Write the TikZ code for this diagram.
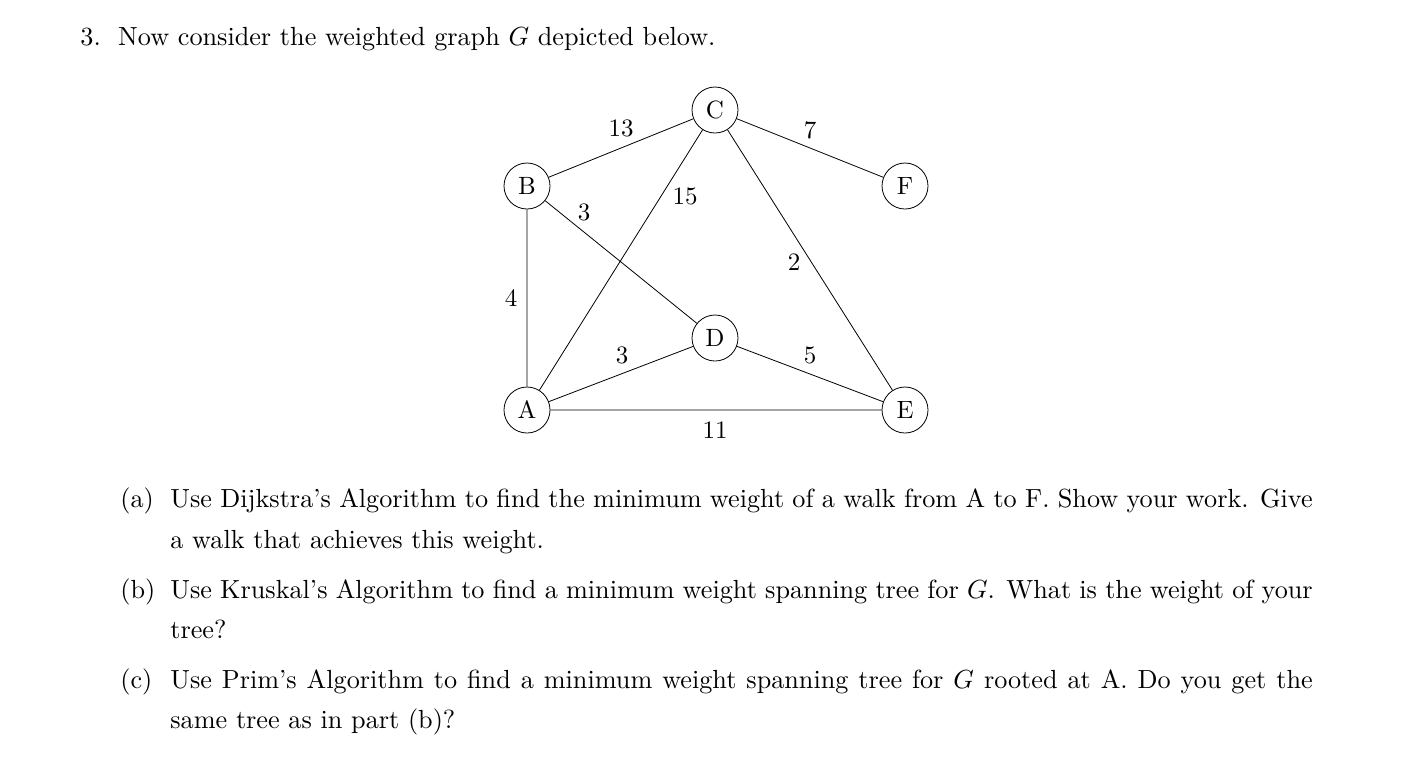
\documentclass[tikz,border=0pt]{standalone}
\newcommand{\bt}[1]{\scalebox{1.31}{\fontsize{10}{12}\selectfont #1}}
\newcommand{\gt}[1]{\scalebox{1.25}{\fontsize{10}{12}\selectfont #1}}
\begin{document}
\begin{tikzpicture}[x=0.5pt,y=-0.5pt,
  vtx/.style={draw,circle,minimum size=23pt,inner sep=0pt},
  wt/.style={inner sep=0pt},
  txt/.style={anchor=base west,inner sep=0pt}]
\useasboundingbox (0,0) rectangle (1416,768);
\node[txt] (title) at (80,45) {\bt{3.\ \ Now consider the weighted graph $G$ depicted below.}};
\node[vtx] (C) at (715,110) {\gt{C}};
\node[vtx] (B) at (527,186) {\gt{B}};
\node[vtx] (F) at (905,186) {\gt{F}};
\node[vtx] (D) at (715,338) {\gt{D}};
\node[vtx] (A) at (527,410) {\gt{A}};
\node[vtx] (E) at (905,410) {\gt{E}};
\draw (B)--(C) (C)--(F) (C)--(A) (C)--(E) (B)--(D) (B)--(A) (A)--(D) (D)--(E) (A)--(E);
\node[wt] (w1) at (621,128) {\gt{13}};
\node[wt] (w2) at (810,130) {\gt{7}};
\node[wt] (w3) at (685,196) {\gt{15}};
\node[wt] (w4) at (584,212) {\gt{3}};
\node[wt] (w5) at (794,262) {\gt{2}};
\node[wt] (w6) at (511,298) {\gt{4}};
\node[wt] (w7) at (622,355) {\gt{3}};
\node[wt] (w8) at (810,355) {\gt{5}};
\node[wt] (w9) at (715,430) {\gt{11}};
\node[txt] (la) at (120,507) {\bt{(a)}};
\node[txt] (a1) at (170,507) {\bt{\makebox[436pt][s]{Use Dijkstra's Algorithm to find the minimum weight of a walk from A to F. Show your work. Give}}};
\node[txt] (a2) at (170,548) {\bt{a walk that achieves this weight.}};
\node[txt] (lb) at (120,598) {\bt{(b)}};
\node[txt] (b1) at (170,598) {\bt{\makebox[436pt][s]{Use Kruskal's Algorithm to find a minimum weight spanning tree for $G$. What is the weight of your}}};
\node[txt] (b2) at (170,638) {\bt{tree?}};
\node[txt] (lc) at (120,688) {\bt{(c)}};
\node[txt] (c1) at (170,688) {\bt{\makebox[436pt][s]{Use Prim's Algorithm to find a minimum weight spanning tree for $G$ rooted at A. Do you get the}}};
\node[txt] (c2) at (170,728) {\bt{same tree as in part (b)?}};
\end{tikzpicture}
\end{document}
